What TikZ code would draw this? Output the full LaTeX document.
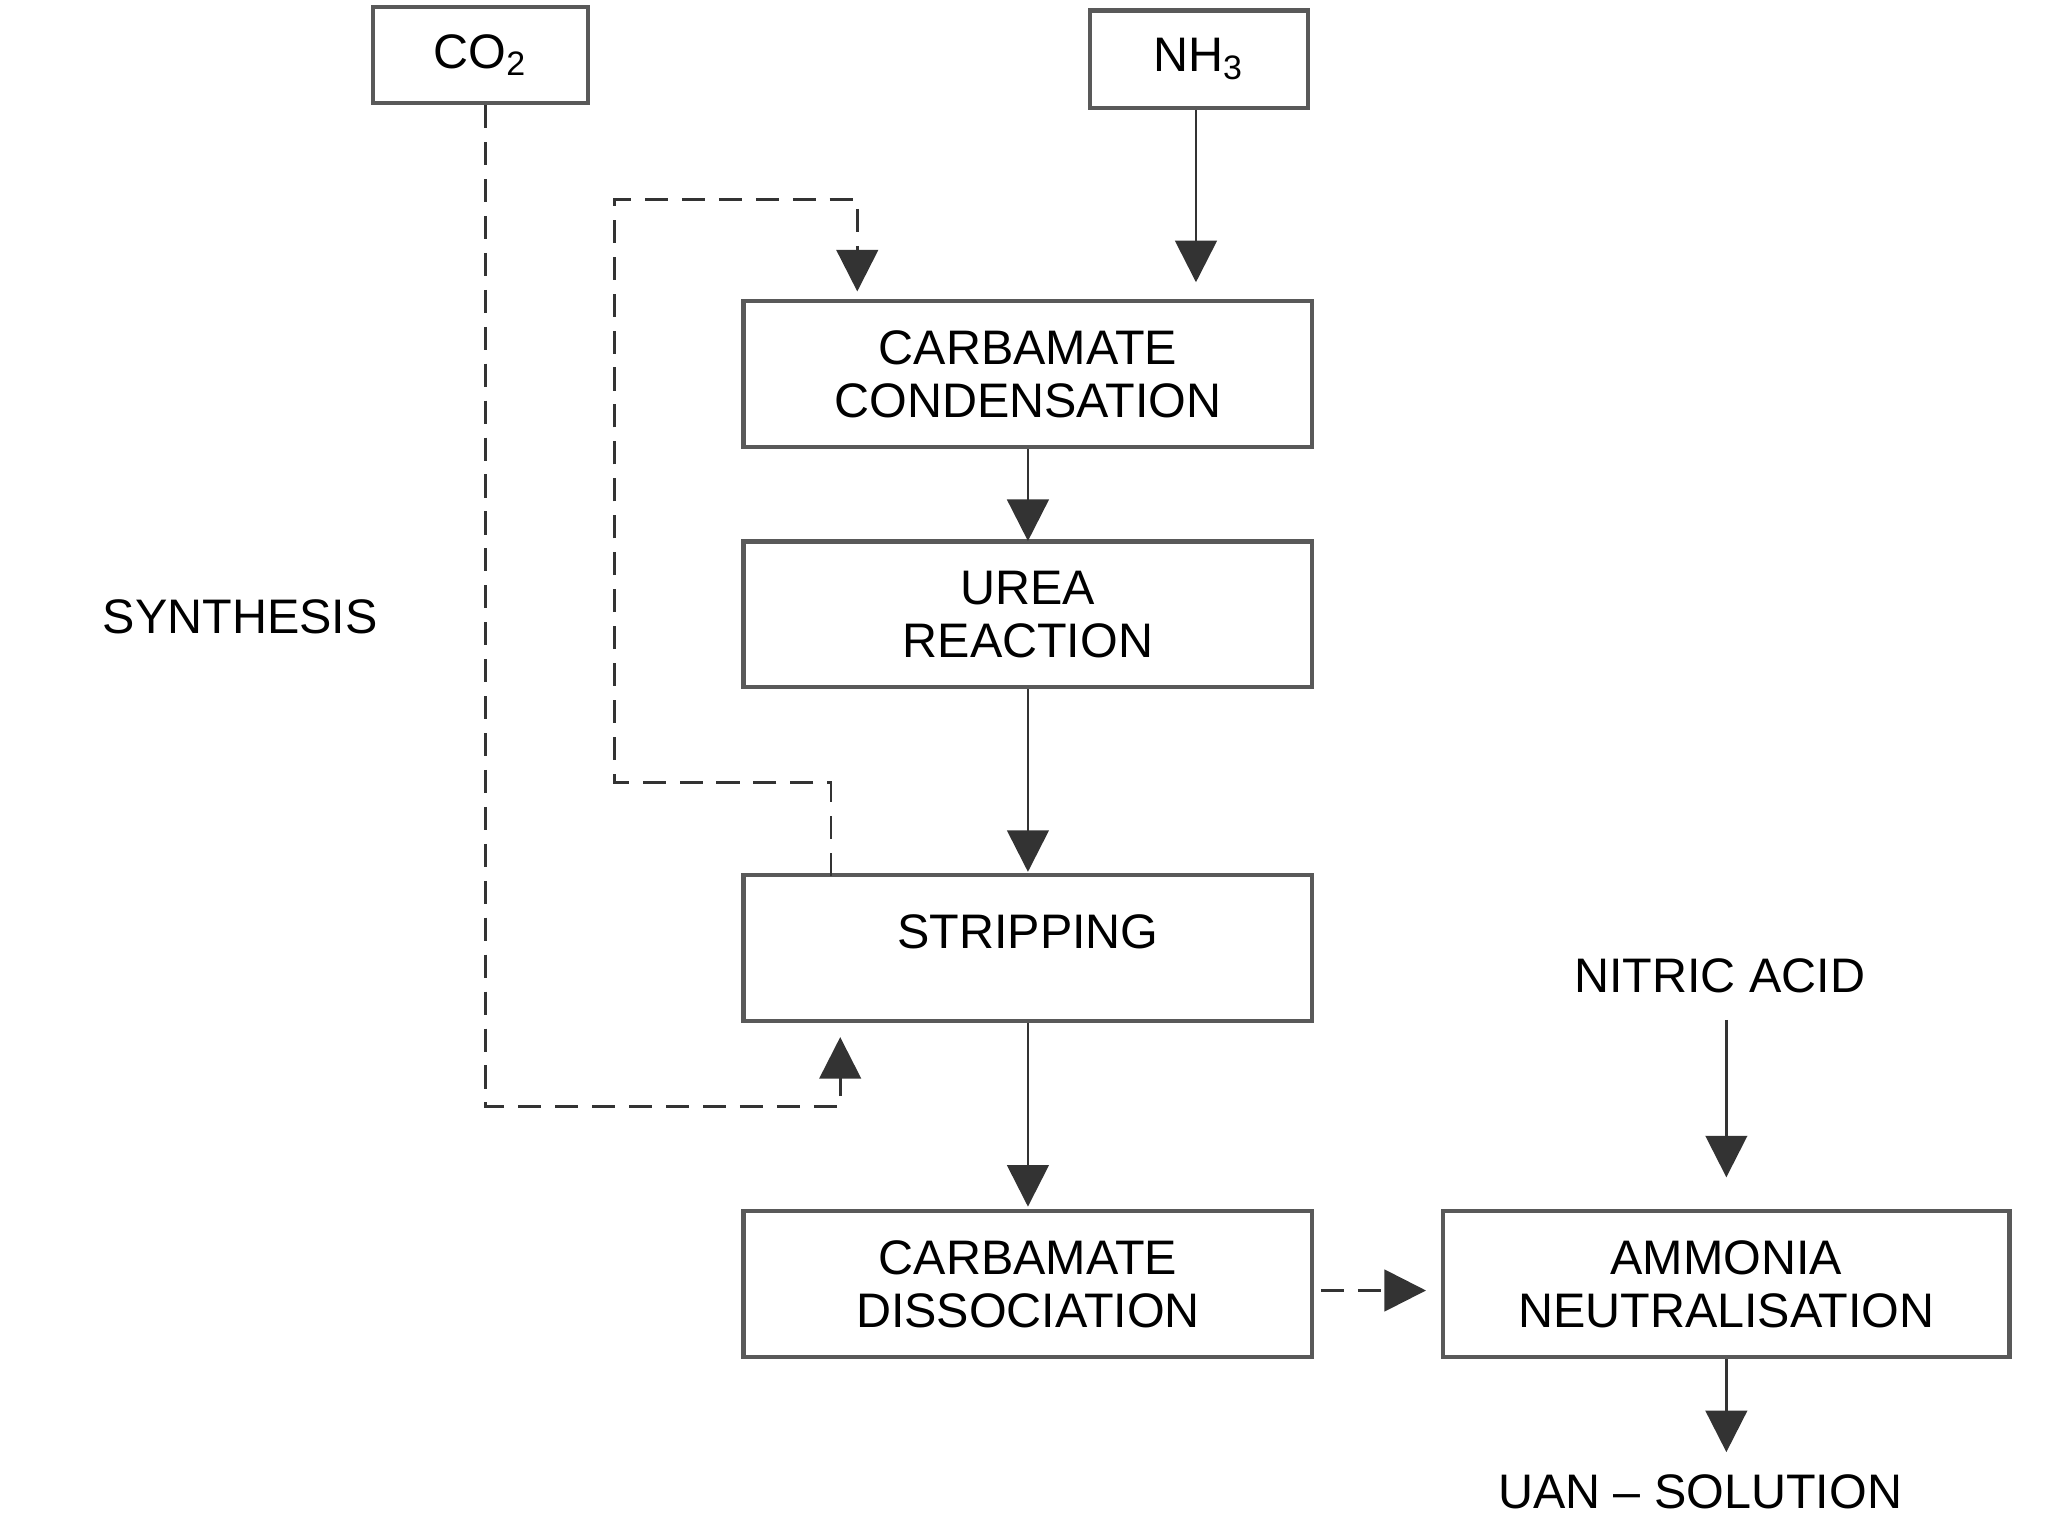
\documentclass[tikz,border=0pt]{standalone}
\usepackage{fontspec}
\setmainfont{Liberation Sans}
\usetikzlibrary{arrows.meta}
\begin{document}
\begin{tikzpicture}[x=0.01cm,y=-0.01cm,
  box/.style={draw=gray!70!black, line width=0.9pt, minimum width=4.33cm, minimum height=1.11cm, align=center, font=\fontsize{10.5}{11.5}\selectfont, inner sep=0pt},
  lbl/.style={font=\fontsize{10.5}{11.5}\selectfont, inner sep=0pt},
  flow/.style={draw=black!80, line width=0.6pt, -{Triangle[length=9pt,width=9pt]}},
  dflow/.style={flow, dash pattern=on 5pt off 3pt}]
\useasboundingbox (0,0) rectangle (1560,1170);
\node[box, minimum width=1.64cm, minimum height=0.73cm] (co2) at (366,42) {CO\textsubscript{2}};
\node[box, minimum width=1.66cm, minimum height=0.74cm] (nh3) at (913,45) {NH\textsubscript{3}};
\node[box] (cc) at (783,285) {CARBAMATE\\CONDENSATION};
\node[box] (ur) at (783,468) {UREA\\REACTION};
\node[box] (st) at (783,722) {};
\node[lbl] (stt) at (783,710) {STRIPPING};
\node[box] (cd) at (783,978) {CARBAMATE\\DISSOCIATION};
\node[box, minimum width=4.31cm] (an) at (1315,978) {AMMONIA\\NEUTRALISATION};
\node[lbl] (syn) at (183,470) {SYNTHESIS};
\node[lbl] (na) at (1310,743) {NITRIC ACID};
\node[lbl] (uan) at (1295,1136) {UAN -- SOLUTION};

\coordinate (nhe) at (911,215);
\draw[flow] (nh3.south -| nhe) -- (nhe);
\draw[flow] (cc.south) -- ++(0,70);
\draw[flow] (ur.south) -- ++(0,139);
\draw[flow] (st.south) -- ++(0,140);
\draw[flow] (na.south -| an.north) ++(0,20) -- ++(0,120);
\draw[flow] (an.south) -- ++(0,71);
\draw[dflow] (cd.east) ++(5,5) -- ++(80,0);

\coordinate (a1) at (370,843);
\coordinate (a2) at (640,843);
\coordinate (a3) at (640,790);
\draw[dflow] (co2.south -| a1) -- (a1) -- (a2) -- (a3);
\coordinate (b0) at (633,667);
\coordinate (b1) at (633,596);
\coordinate (b2) at (468,596);
\coordinate (b3) at (468,152);
\coordinate (b4) at (653,152);
\coordinate (b5) at (653,222);
\draw[dflow] (b0) -- (b1) -- (b2) -- (b3) -- (b4) -- (b5);
\end{tikzpicture}
\end{document}
